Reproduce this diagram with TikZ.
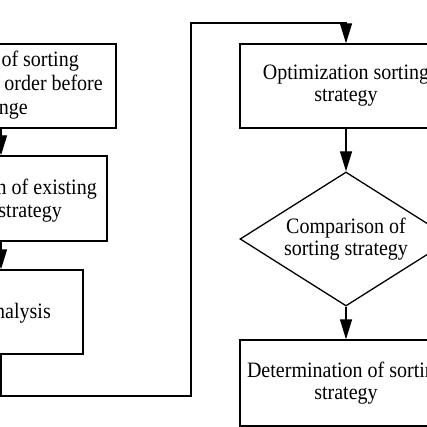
\documentclass[tikz,border=0pt]{standalone}
\usepackage{fontspec}
\setmainfont{Liberation Serif}[FakeStretch=0.91]
\usetikzlibrary{arrows.meta,shapes.geometric}
\begin{document}
\begin{tikzpicture}[x=1pt,y=-1pt,
  every node/.style={font=\fontsize{22}{22}\selectfont},
  box/.style={draw,line width=1.3pt,rectangle,inner sep=0pt,align=center},
  dia/.style={draw,line width=1.3pt,diamond,inner sep=0pt,align=center,aspect=1.58},
  frag/.style={anchor=base east,inner sep=0pt},
  arr/.style={line width=1.3pt,-{Triangle[width=12pt,length=20pt]}}]
\useasboundingbox (0,0) rectangle (427,427);
\clip (0,0) rectangle (427,427);
% left column (cut off at the left edge)
\node[box,minimum width=230pt,minimum height=84pt] (b1) at (1,86) {};
\node[box,minimum width=212pt,minimum height=85pt] (b2) at (1,198.5) {};
\node[box,minimum width=164pt,minimum height=84pt] (b3) at (1,312) {};
\node[frag] (t1a) at (79,67) {of sorting};
\node[frag] (t1b) at (103,91) {order before};
\node[frag] (t1c) at (28,115) {nge};
\node[frag] (t2a) at (97,195) {n of existing};
\node[frag] (t2b) at (62,217) {strategy};
\node[frag] (t3a) at (51,318) {nalysis};
% right column (cut off at the right edge)
\node[box,minimum width=212pt,minimum height=84pt] (b4) at (346,86) {Optimization sorting\\strategy};
\node[dia,minimum width=212pt,minimum height=134pt] (d1) at (346,239) {Comparison of\\sorting strategy};
\node[box,minimum width=212pt,minimum height=86pt] (b5) at (346,383) {Determination of sorting\\strategy};
% connectors
\coordinate (p1) at (191,396);
\coordinate (p2) at (191,23);
\draw[arr] (b1.south) -- (b2.north);
\draw[arr] (b2.south) -- (b3.north);
\draw[arr] (b3.south) |- (p1) -- (p2) -| (b4.north);
\draw[arr] (b4.south) -- (d1.north);
\draw[arr] (d1.south) -- (b5.north);
\end{tikzpicture}
\end{document}
